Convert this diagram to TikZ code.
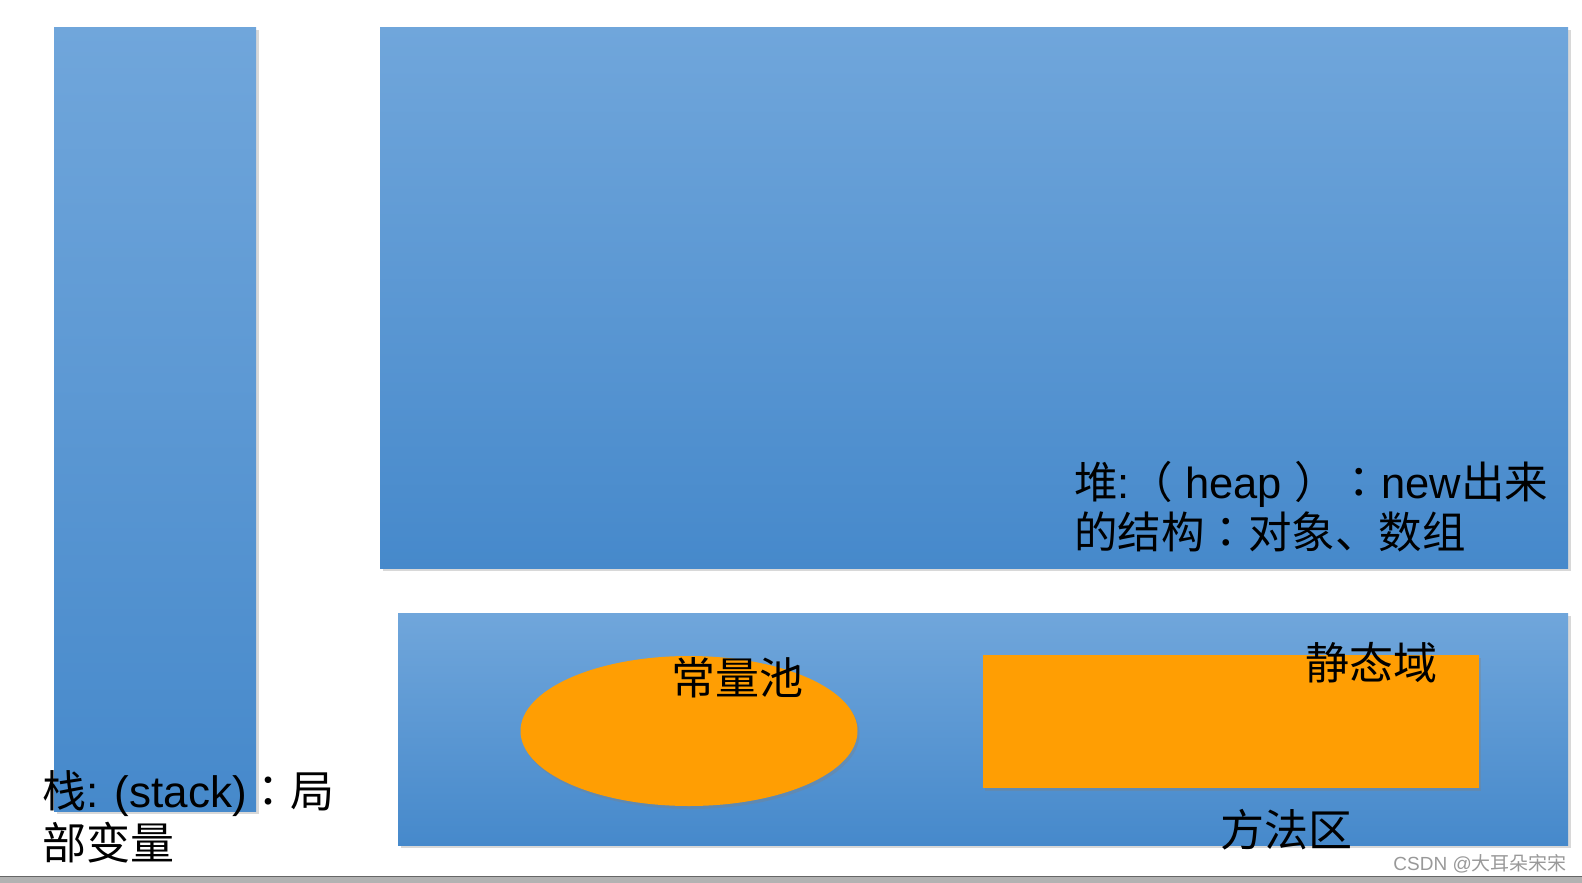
\documentclass[tikz,border=0pt]{standalone}
\usepackage{fontspec}
\setmainfont{Noto Sans CJK SC}
\newfontfamily\lat{Liberation Sans}
\newfontfamily\jp{Noto Sans CJK JP}
\usepackage{tikz}
\usepackage{xcolor}
\usetikzlibrary{shapes, shadows, positioning}

\definecolor{boxtop}{HTML}{70A6DB}
\definecolor{boxbot}{HTML}{4689CB}
\definecolor{pooled}{HTML}{FF9E03}

\begin{document}
\begin{tikzpicture}[x=1pt, y=-1pt,
  area/.style = {rectangle, inner sep=0pt, anchor=north west, top color=boxtop, bottom color=boxbot, drop shadow={opacity=0.3, shadow xshift=3pt, shadow yshift=-3pt}},
  pool/.style = {fill=pooled, inner sep=0pt, drop shadow={opacity=0.35, shadow xshift=2pt, shadow yshift=-3pt}},
  lbl/.style = {inner sep=0pt, anchor=base west, align=left, font=\fontsize{44}{52}\selectfont}]
  \fill[white] (0,0) rectangle (1582,883);
  % memory areas
  \node[area, minimum width=202, minimum height=784] (stack) at (54,27) {};
  \node[area, minimum width=1188, minimum height=541] (heap) at (380,27) {};
  \node[area, minimum width=1170, minimum height=232] (method) at (398,613) {};
  \node[pool, ellipse, minimum width=337, minimum height=150] (const) at (689,731) {};
  \node[pool, rectangle, minimum width=496, minimum height=133, anchor=north west] (static) at (983,655) {};
  % labels (base = last line)
  \node[lbl] (stacktxt) at (42,859) {栈{\lat: (stack)}{\jp：}局\\部变量};
  \node[lbl, font=\fontsize{43.5}{50}\selectfont] (heaptxt) at (1074,548) {堆{\lat:}（{\lat\ heap }）{\jp：}{\lat new}出来\\的结构{\jp：}对象、数组};
  \node[lbl] (consttxt) at (671,694) {常量池};
  \node[lbl] (statictxt) at (1305,679) {静态域};
  \node[lbl] (methodtxt) at (1220,846) {方法区};
  % page footer
  \fill[black!30] (0,876) rectangle (1582,883);
  \draw[black!60, line width=1.5pt] (0,876.5) -- (1582,876.5);
  \node[inner sep=0pt, anchor=base east, text=black!40, font=\lat\fontsize{19}{22}\selectfont] (mark) at (1567,870) {CSDN @{\fontspec{Noto Sans CJK SC}大耳朵宋宋}};
  \pgfresetboundingbox
  \useasboundingbox (0,0) rectangle (1582,883);
\end{tikzpicture}
\end{document}
